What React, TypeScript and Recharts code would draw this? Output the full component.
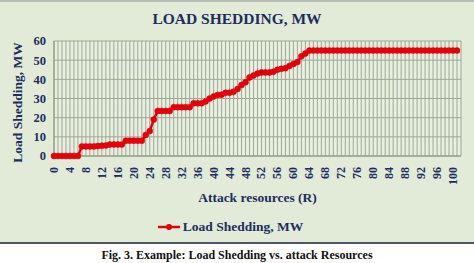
import { CartesianGrid, Label, Legend, Line, LineChart, XAxis, YAxis } from "recharts";

const navy = "#1c2d5e";
const red = "#e3000b";

// Load shedding (MW), one value per attack resource R = 0..101
const loadShedding = [
  0, 0, 0, 0, 0, 0, 0, 5, 5, 5, 5, 5.2, 5.3, 5.5, 6, 6, 6, 6, 8, 8, 8, 8, 8, 11, 13, 19,
  23.5, 23.5, 23.5, 23.5, 25.5, 25.5, 25.5, 25.5, 25.5, 27.5, 27.5, 27.5, 28.5, 30, 31,
  31.8, 32, 33, 33, 33.5, 35, 37, 38.5, 41, 42, 43, 43.6, 43.6, 43.6, 44, 45, 45.5, 45.8,
  47, 48, 49, 52, 53.5, 55, 55, 55, 55, 55, 55, 55, 55, 55, 55, 55, 55, 55, 55, 55, 55,
  55, 55, 55, 55, 55, 55, 55, 55, 55, 55, 55, 55, 55, 55, 55, 55, 55, 55, 55, 55, 55, 55,
];
const yTicks = [0, 10, 20, 30, 40, 50, 60];
const xGridTicks = Array.from({ length: 103 }, (_, i) => i);

const data = loadShedding.map((v, r) => ({ r, v }));

const font = '"Liberation Serif", "Times New Roman", serif';

function XTick({ x, y, payload }: any) {
  if (payload.value % 4 !== 0 || payload.value > 100) return null;
  return (
    <text
      x={0}
      y={0}
      transform={`translate(${x + 4},${y + 3}) rotate(-90)`}
      textAnchor="end"
      fontFamily={font}
      fontWeight="bold"
      fontSize={12}
      fill={navy}
    >
      {payload.value}
    </text>
  );
}

function LegendContent() {
  return (
    <div style={{ height: 22, display: "flex", justifyContent: "center", alignItems: "center" }}>
      <svg width={22} height={10} style={{ marginRight: 3 }}>
        <line x1={0} y1={5} x2={22} y2={5} stroke={red} strokeWidth={2.5} />
        <circle cx={11} cy={5} r={3} fill={red} />
      </svg>
      <span style={{ fontFamily: font, fontWeight: "bold", fontSize: 13.5, color: navy }}>
        Load Shedding, MW
      </span>
    </div>
  );
}

export default function App() {
  return (
    <div style={{ position: "absolute", left: 0, top: 0, width: 474, height: 263, background: "#fff", overflow: "hidden" }}>
      <div
        style={{
          position: "relative",
          width: 474,
          height: 240,
          background: "#e1ebd7",
          borderTop: "2px solid #b3bcb3",
          borderBottom: "2px solid #4e5768",
        }}
      >
        <div
          style={{
            position: "absolute",
            top: 8,
            left: 0,
            width: 474,
            textAlign: "center",
            fontFamily: font,
            fontWeight: "bold",
            fontSize: 15.5,
            color: navy,
          }}
        >
          LOAD SHEDDING, MW
        </div>
        <LineChart width={474} height={240} data={data} margin={{ top: 39, right: 13, left: 0, bottom: 4 }}>
          <CartesianGrid fill="#e7f0e0" stroke="#9ea893" strokeWidth={1} />
          <XAxis
            dataKey="r"
            type="number"
            domain={[0, 102]}
            ticks={xGridTicks}
            interval={0}
            height={60}
            tick={<XTick />}
            tickLine={false}
            axisLine={{ stroke: "#8a9480" }}
          >
            <Label
              value="Attack resources (R)"
              position="insideBottom"
              offset={14}
              style={{ fontFamily: font, fontWeight: "bold", fontSize: 13.5, fill: navy }}
            />
          </XAxis>
          <YAxis
            width={54}
            domain={[0, 60]}
            ticks={yTicks}
            interval={0}
            tickLine={false}
            axisLine={{ stroke: "#8a9480" }}
            tick={{ fontFamily: font, fontWeight: "bold", fontSize: 12.5, fill: navy }}
          >
            <Label
              content={({ viewBox }: any) => (
                <text
                  x={0}
                  y={0}
                  transform={`translate(${viewBox.x + 22},${viewBox.y + viewBox.height / 2 + 4}) rotate(-90)`}
                  textAnchor="middle"
                  fontFamily={font}
                  fontWeight="bold"
                  fontSize={13.5}
                  fill={navy}
                >
                  Load Shedding, MW
                </text>
              )}
            />
          </YAxis>
          <Legend verticalAlign="bottom" content={<LegendContent />} />
          <Line
            dataKey="v"
            name="Load Shedding, MW"
            stroke={red}
            strokeWidth={2.5}
            dot={{ r: 3, fill: red, stroke: red, strokeWidth: 0.5 }}
            isAnimationActive={false}
          />
        </LineChart>
      </div>
      <div
        style={{
          position: "absolute",
          top: 248,
          left: 0,
          width: 474,
          textAlign: "center",
          fontFamily: font,
          fontWeight: "bold",
          fontSize: 12,
          color: "#111",
        }}
      >
        Fig. 3. Example: Load Shedding vs. attack Resources
      </div>
    </div>
  );
}
